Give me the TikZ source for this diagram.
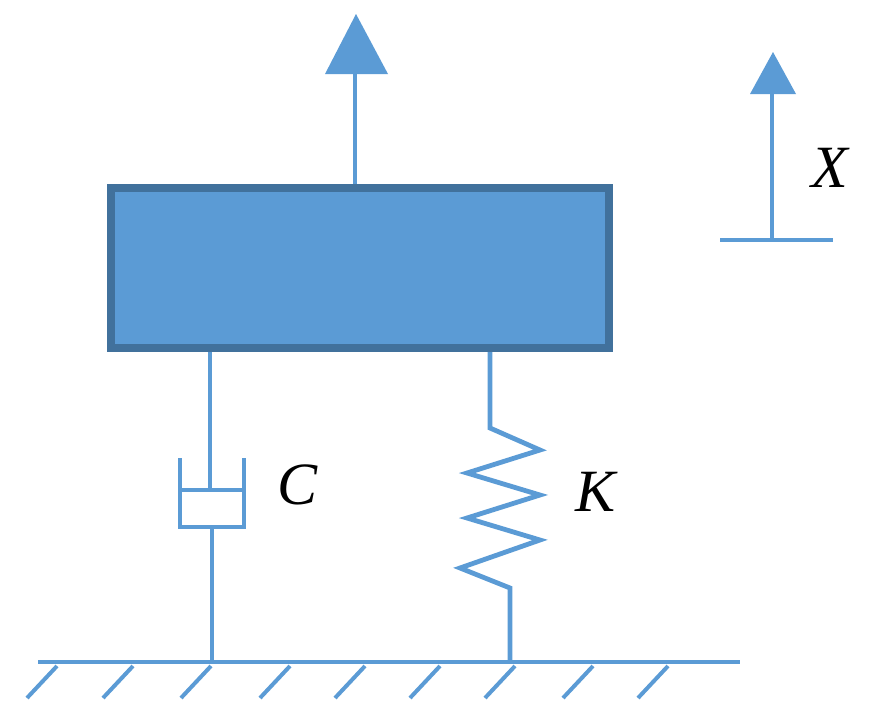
\documentclass[tikz,border=0pt]{standalone}
\usepackage{fontspec}
\setmainfont{Liberation Serif}
\begin{document}
\begin{tikzpicture}[x=1pt,y=-1pt,
  ln/.style={draw=lb,line width=4.8pt},
  lab/.style={font=\itshape\fontsize{60}{60}\selectfont,text=black,inner sep=0pt}]
\definecolor{lb}{HTML}{5B9BD5}
\definecolor{db}{HTML}{41719C}
\useasboundingbox (0,0) rectangle (872,716);
\node[draw=db,fill=lb,line width=8pt,minimum width=498pt,minimum height=160pt,inner sep=0pt] (m) at (360,268) {};
% up arrow
\coordinate (a1) at (355,72);
\draw[ln] (m.north -| a1) -- (a1);
\fill[lb] (325,74) -- (388,74) -- (356,14) -- cycle;
% X indicator
\coordinate (g1) at (720,240); \coordinate (g2) at (833,240);
\coordinate (x1) at (772,240); \coordinate (x2) at (772,92);
\draw[ln] (g1) -- (g2);
\draw[ln] (x1) -- (x2);
\fill[lb] (750,94) -- (796,94) -- (773,52) -- cycle;
\node[lab] (X) at (830,168) {X};
% damper
\coordinate (d1) at (210,352);
\draw[ln] (d1) -- (210,488);
\draw[ln] (180,490) -- (242,490);
\draw[ln] (180,458) -- (180,527) -- (244,527) -- (244,458);
\draw[ln] (212,527) -- (212,662);
\node[lab] (C) at (298,485) {C};
% spring
\draw[ln,line join=miter] (490,352) -- (490,428) -- (540,450) -- (467,473) -- (540,495) -- (467,518) -- (540,540) -- (460,568) -- (510,588) -- (510,662);
\node[lab] (K) at (596,492) {K};
% ground
\draw[ln] (38,662) -- (740,662);
\foreach \x in {57,133,211,290,365,440,515,593,668}
  \draw[ln,line width=4pt] (\x,666) -- (\x-30,698);
\end{tikzpicture}
\end{document}
